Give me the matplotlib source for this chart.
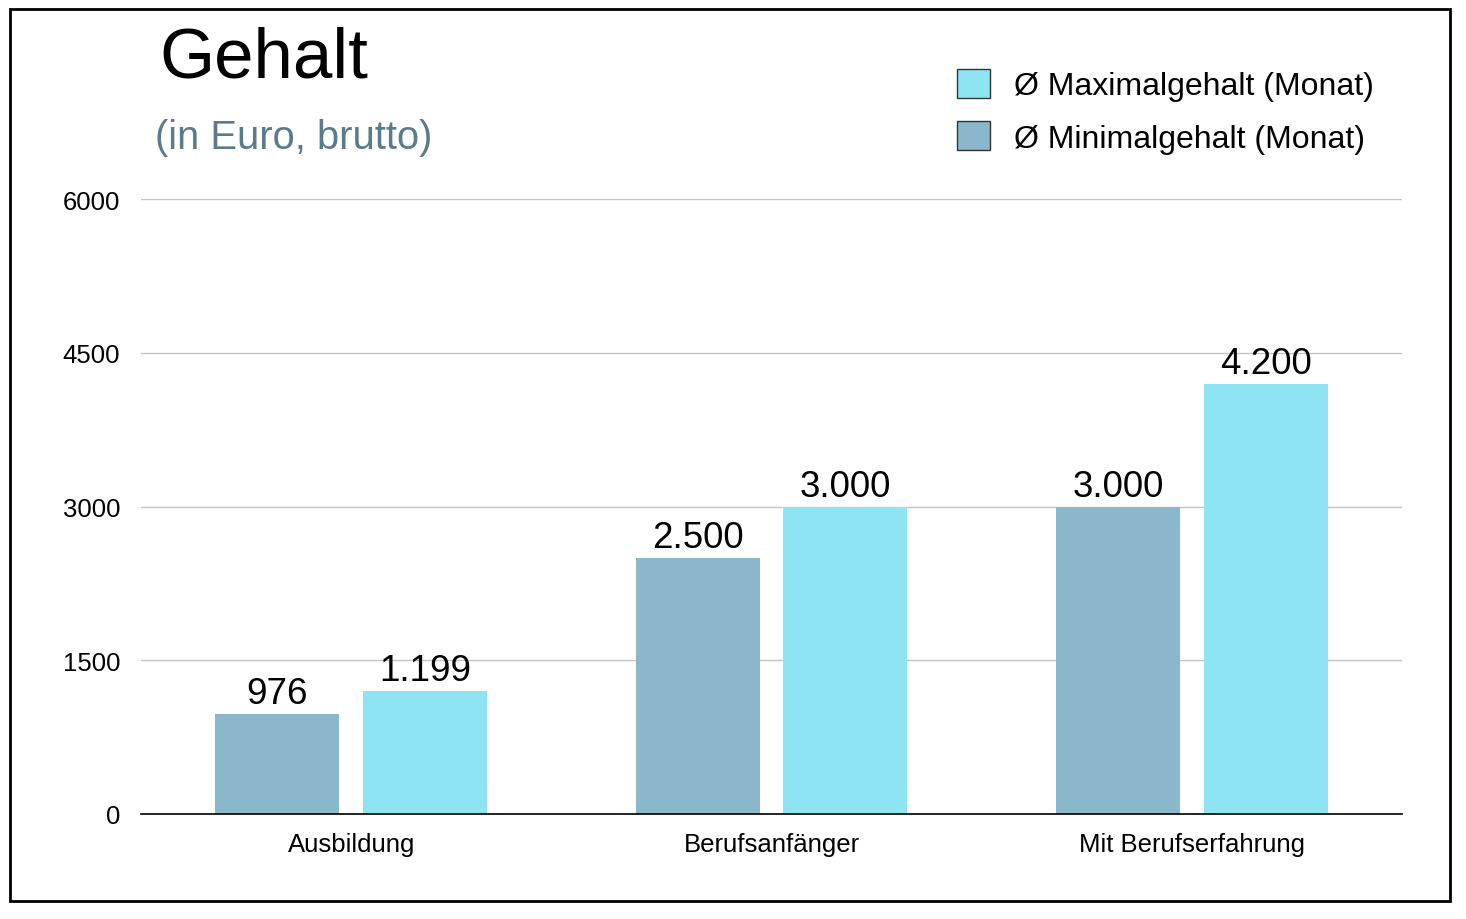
import numpy as np
import matplotlib.pyplot as plt
from matplotlib.patches import Rectangle, Patch

plt.rcParams['font.family'] = ['Liberation Sans', 'DejaVu Sans']

categories = ['Ausbildung', 'Berufsanfänger', 'Mit Berufserfahrung']
min_gehalt = [976, 2500, 3000]
max_gehalt = [1199, 3000, 4200]
yticks = [0, 1500, 3000, 4500, 6000]

col_min = '#8ab7c9'
col_max = '#8ee4f2'

fig = plt.figure(figsize=(14.66, 9.2), dpi=100)
ax = fig.add_axes([141/1466, 105/920, (1402-141)/1466, (815-200)/920])

x = np.arange(len(categories))
w = 0.295
off = 0.176
b1 = ax.bar(x - off, min_gehalt, w, color=col_min)
b2 = ax.bar(x + off, max_gehalt, w, color=col_max)


def fmt(v):
    return f"{v:,}".replace(",", ".")


ax.bar_label(b1, labels=[fmt(v) for v in min_gehalt], padding=2, fontsize=26.5)
ax.bar_label(b2, labels=[fmt(v) for v in max_gehalt], padding=2, fontsize=26.5)

ax.set_xlim(-0.5, 2.5)
ax.set_ylim(0, 6000)
ax.set_yticks(yticks)
ax.set_yticklabels([str(t) for t in yticks], fontsize=18.5)
ax.set_xticks(x)
ax.set_xticklabels(categories, fontsize=18.5)
ax.tick_params(axis='y', length=0, pad=15)
ax.tick_params(axis='x', length=0, pad=13)
ax.yaxis.grid(True, color='#c4c4c4', linewidth=1)
ax.set_axisbelow(True)
for s in ['top', 'right', 'left']:
    ax.spines[s].set_visible(False)
ax.spines['bottom'].set_color('black')
ax.spines['bottom'].set_linewidth(1.2)
ax.spines['bottom'].set_zorder(3)

fig.text(159/1466, 1 - 78/920, 'Gehalt', fontsize=51, va='baseline', ha='left')
fig.text(155/1466, 1 - 149/920, '(in Euro, brutto)', fontsize=28.7, color='#5b7b8b',
         va='baseline', ha='left')

handles = [Patch(facecolor=col_max, edgecolor='#333333', linewidth=1),
           Patch(facecolor=col_min, edgecolor='#333333', linewidth=1)]
fig.legend(handles, ['Ø Maximalgehalt (Monat)', 'Ø Minimalgehalt (Monat)'],
           loc='upper left', bbox_to_anchor=(944/1466, 1 - 57/920), frameon=False,
           fontsize=23, handlelength=1.03, handleheight=1.03, handletextpad=0.75,
           labelspacing=0.62, borderaxespad=0)

fig.patches.append(Rectangle((10/1466, 18/920), 1440/1466, 892/920, transform=fig.transFigure,
                             fill=False, edgecolor='black', linewidth=2))

fig.savefig('out.png', dpi=100)
